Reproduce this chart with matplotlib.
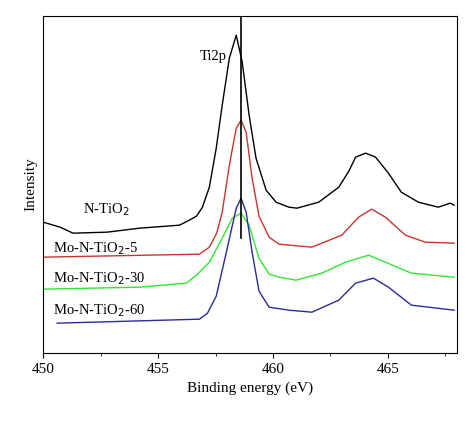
import matplotlib.pyplot as plt

plt.rcParams['font.family'] = ['Liberation Serif', 'DejaVu Serif']

# binding energy (eV) / intensity (a.u., offset stacked)
e_n = [450.00, 450.74, 451.30, 452.77, 454.20, 455.93, 456.36, 456.67, 456.93, 457.23,
       457.53, 457.79, 458.10, 458.40, 458.66, 458.96, 459.26, 459.70, 460.13, 460.69,
       461.04, 461.99, 462.86, 463.30, 463.59, 464.03, 464.46, 465.02, 465.58, 466.32,
       467.19, 467.71, 467.88]
i_n = [131, 126, 120, 121, 125, 128, 133, 137, 146, 166,
       205, 248, 295, 318, 291, 238, 195, 163, 151, 146,
       145, 151, 166, 182, 196, 200, 196, 180, 161, 151,
       146, 150, 148]

e_5 = [450.00, 456.80, 457.23, 457.55, 457.79, 458.10, 458.40, 458.61, 458.83, 459.09,
       459.39, 459.83, 460.26, 461.69, 462.99, 463.72, 464.29, 464.89, 465.76, 466.62, 467.88]
i_5 = [96, 99, 106, 120, 141, 188, 225, 233, 221, 175,
       137, 116, 109, 106, 118, 136, 144, 136, 118, 111, 110]

e_30 = [450.00, 454.20, 456.23, 456.67, 457.23, 457.79, 458.23, 458.61, 458.96, 459.39,
        459.83, 460.26, 461.00, 462.12, 463.16, 464.16, 464.89, 466.02, 467.88]
i_30 = [64, 66, 70, 78, 91, 115, 135, 140, 128, 95,
        79, 76, 73, 80, 91, 98, 91, 80, 76]

e_60 = [450.61, 456.80, 457.15, 457.53, 457.97, 458.40, 458.61, 458.83, 459.09, 459.39,
        459.83, 460.69, 461.69, 462.86, 463.59, 464.37, 465.02, 466.02, 467.88]
i_60 = [30, 34, 40, 57, 101, 145, 155, 141, 101, 62,
        46, 43, 41, 53, 70, 75, 66, 48, 43]

series = [(e_n, i_n, 'black', 'N-TiO$_2$', 451.73, 140),
          (e_5, i_5, '#c8352d', 'Mo-N-TiO$_2$-5', 450.43, 101),
          (e_30, i_30, '#33e633', 'Mo-N-TiO$_2$-30', 450.43, 71),
          (e_60, i_60, '#2a2a9a', 'Mo-N-TiO$_2$-60', 450.43, 39)]

fig = plt.figure(figsize=(4.74, 4.25), dpi=100)
ax = fig.add_axes([0.091, 0.169, 0.873, 0.793])
for e, i, c, lab, tx, ty in series:
    ax.plot(e, i, color=c, lw=1)
    ax.text(tx, ty, lab, fontsize=10.5, va='baseline')

ax.plot([458.6, 458.6], [115, 337], color='black', lw=1.2)
ax.text(458.0, 293, 'Ti2p', fontsize=10.5, ha='right', va='baseline')

ax.set_xlim(450, 468)
ax.set_ylim(0, 337)
ax.set_xticks([450, 455, 460, 465])
ax.set_xticks([452.5, 457.5, 462.5, 467.5], minor=True)
ax.set_yticks([])
ax.tick_params(labelsize=11)
ax.set_xlabel('Binding energy (eV)', fontsize=11)
ax.set_ylabel('Intensity', fontsize=11)
fig.savefig('out.png')
